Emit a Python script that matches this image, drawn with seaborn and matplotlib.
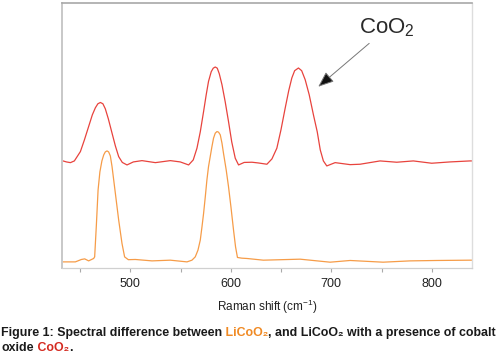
import matplotlib
matplotlib.use("Agg")
import matplotlib.pyplot as plt
import seaborn as sns
import pandas as pd
from matplotlib.offsetbox import TextArea, HPacker, AnchoredOffsetbox

# Raman spectra (intensity in arbitrary units)
shift_coo2 = [432, 436.4, 440.4, 444.3, 450.3, 454.3, 458.5, 462.2, 465.2, 467.7,
              470.2, 472.7, 475.1, 478.1, 481.8, 485.1, 488.4, 492.0, 496.7, 503.0,
              511.6, 524.9, 539.8, 549.7, 558.0, 562.6, 566.3, 569.6, 572.9, 575.5,
              577.8, 580.5, 582.5, 584.5, 586.5, 588.5, 591.2, 594.4, 597.7, 600.9,
              604.4, 607.7, 613.3, 621.0, 627.2, 635.9, 640.9, 645.8, 649.9, 654.1,
              657.6, 660.7, 663.5, 667.3, 670.5, 674.0, 678.0, 682.2, 686.0, 689.0,
              692.1, 695.5, 703.8, 718.7, 728.6, 748.5, 765.1, 781.6, 799.9, 818.1,
              838.0, 840]
int_coo2 = [1.073, 1.06, 1.053, 1.07, 1.163, 1.28, 1.413, 1.53, 1.60, 1.64,
            1.653, 1.64, 1.59, 1.49, 1.347, 1.22, 1.113, 1.055, 1.03, 1.06,
            1.073, 1.053, 1.073, 1.06, 1.03, 1.08, 1.197, 1.36, 1.563, 1.73,
            1.863, 1.96, 1.995, 2.007, 1.995, 1.94, 1.83, 1.66, 1.463, 1.26,
            1.097, 1.03, 1.055, 1.057, 1.05, 1.037, 1.09, 1.197, 1.38, 1.597,
            1.77, 1.897, 1.97, 1.997, 1.97, 1.88, 1.73, 1.53, 1.36, 1.18,
            1.07, 1.02, 1.053, 1.033, 1.037, 1.07, 1.057, 1.07, 1.047, 1.06,
            1.07, 1.07]

shift_licoo2 = [432, 445.3, 451.3, 454.6, 458.5, 463.5, 464.5, 466.2, 467.9, 469.7,
                471.7, 473.5, 475.1, 476.8, 478.4, 480.1, 481.8, 485.1, 488.4, 491.7,
                494.3, 498.0, 505.0, 521.6, 539.8, 556.4, 561.3, 564.6, 567.3, 569.6,
                571.3, 572.9, 574.6, 576.2, 577.8, 579.5, 581.2, 582.8, 584.5, 586.2,
                587.8, 589.5, 591.2, 592.7, 595.4, 597.7, 600.1, 602.7, 604.7, 606.6,
                611.0, 616.0, 632.4, 669.0, 698.8, 718.7, 751.5, 778.3, 804.9, 838.0,
                840]
int_licoo2 = [0.063, 0.063, 0.087, 0.093, 0.073, 0.097, 0.113, 0.43, 0.78, 0.96,
              1.07, 1.13, 1.16, 1.17, 1.16, 1.12, 1.013, 0.747, 0.48, 0.247,
              0.113, 0.085, 0.087, 0.073, 0.08, 0.063, 0.08, 0.113, 0.18, 0.28,
              0.413, 0.547, 0.713, 0.88, 1.013, 1.113, 1.213, 1.297, 1.347, 1.363,
              1.357, 1.33, 1.247, 1.147, 0.98, 0.813, 0.613, 0.38, 0.213, 0.107,
              0.1, 0.097, 0.08, 0.09, 0.06, 0.077, 0.06, 0.073, 0.077, 0.08,
              0.08]

tick_vals = [500, 600, 700, 800]
minor_vals = [450, 550, 650, 750]

red = "#e8433d"
orange = "#f69c48"

df = pd.concat([
    pd.DataFrame({"shift": shift_coo2, "intensity": int_coo2, "sample": "CoO2"}),
    pd.DataFrame({"shift": shift_licoo2, "intensity": int_licoo2, "sample": "LiCoO2"}),
])

sns.set_style("white")
plt.rcParams["font.family"] = ["Liberation Sans", "DejaVu Sans"]
plt.rcParams["mathtext.default"] = "regular"

fig = plt.figure(figsize=(5, 3.6), dpi=100)
ax = fig.add_axes([0.124, 0.255, 0.82, 0.738])

sns.lineplot(data=df, x="shift", y="intensity", hue="sample",
             palette={"CoO2": red, "LiCoO2": orange}, sort=False,
             linewidth=0.9, legend=False, ax=ax)

ax.set_xlim(432, 840)
ax.set_ylim(0, 2.65)
ax.set_yticks([])
ax.set_ylabel("")
ax.set_xticks(tick_vals)
ax.set_xticks(minor_vals, minor=True)
ax.tick_params(axis="x", which="both", direction="out", length=3, width=0.8,
               color="#aaaaaa", labelsize=9, labelcolor="#222222", pad=4, bottom=True)
ax.set_xlabel("Raman shift (cm$^{-1}$)", fontsize=8.5, color="#222222", labelpad=6)

for side, col, lw in [("left", "#c8c8c8", 1.4), ("top", "#a8a8a8", 1.2),
                      ("right", "#dddddd", 1.0), ("bottom", "#d0d0d0", 0.9)]:
    ax.spines[side].set_visible(True)
    ax.spines[side].set_color(col)
    ax.spines[side].set_linewidth(lw)

ax.annotate("CoO$_2$", xy=(687, 1.81), xytext=(728, 2.34),
            fontsize=16, color="#2a2a2a", ha="left", va="baseline",
            arrowprops=dict(arrowstyle="-|>,head_length=0.6,head_width=0.24",
                            fc="#111111", ec="#777777", lw=0.7,
                            shrinkA=1, shrinkB=0))

# coloured caption under the chart
cap = dict(weight="bold", size=8.9)
line1 = HPacker(children=[
    TextArea("Figure 1: Spectral difference between", textprops=dict(color="#1a1a1a", **cap)),
    TextArea(" LiCoO₂", textprops=dict(color="#f08a24", **cap)),
    TextArea(", and LiCoO₂ with a presence of cobalt", textprops=dict(color="#1a1a1a", **cap)),
], pad=0, sep=0, align="baseline")
line2 = HPacker(children=[
    TextArea("oxide", textprops=dict(color="#1a1a1a", **cap)),
    TextArea(" CoO₂", textprops=dict(color="#d42a20", **cap)),
    TextArea(".", textprops=dict(color="#1a1a1a", **cap)),
], pad=0, sep=0, align="baseline")
for box, ypos in [(line1, 0.058), (line2, 0.018)]:
    anchored = AnchoredOffsetbox(loc="lower left", child=box, pad=0, borderpad=0,
                                 frameon=False, bbox_to_anchor=(0.002, ypos),
                                 bbox_transform=fig.transFigure)
    fig.add_artist(anchored)

fig.savefig("out.png", dpi=100)
